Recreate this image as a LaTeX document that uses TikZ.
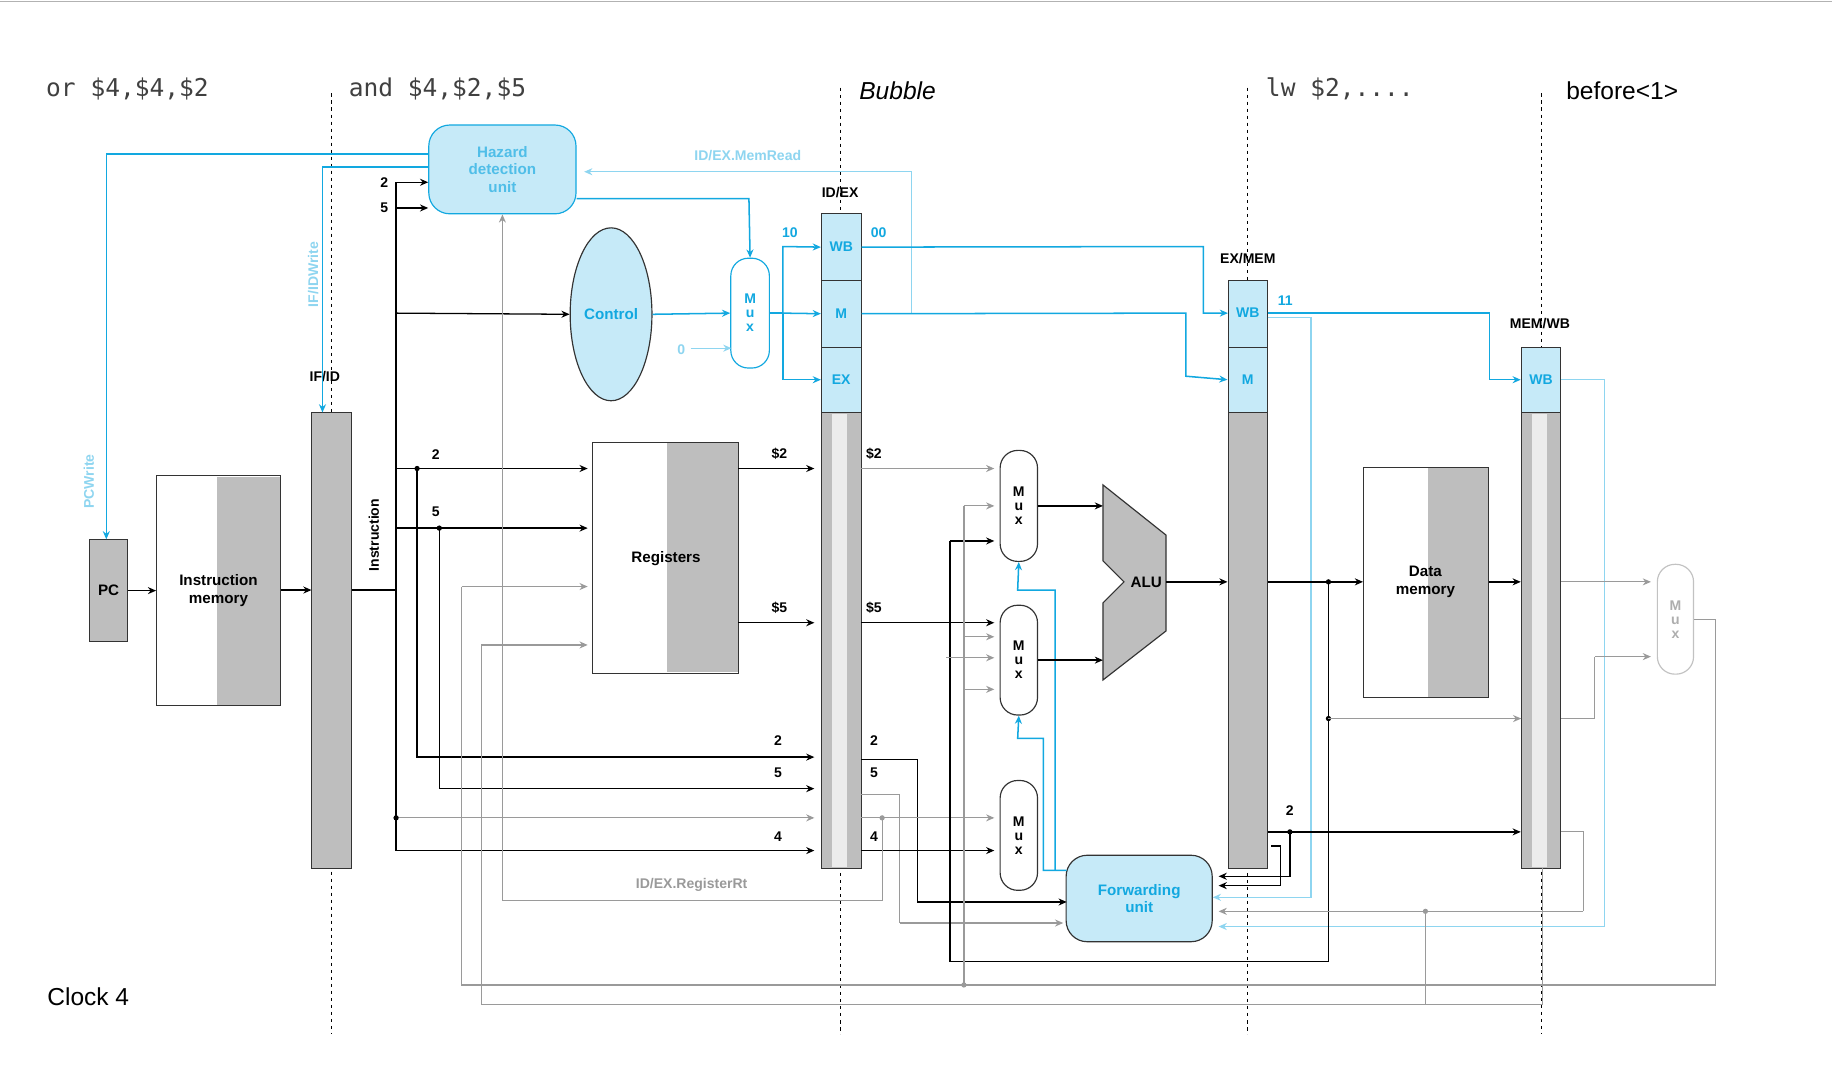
\documentclass[tikz,border=0pt]{standalone}
\usepackage{fontspec}
\setmainfont{Liberation Sans}
\setmonofont{DejaVu Sans Mono}
\usetikzlibrary{arrows.meta,shapes.geometric}
\definecolor{cy}{HTML}{12A8E0}
\definecolor{lcy}{HTML}{8ED5F0}
\definecolor{cyf}{HTML}{C6EAF8}
\definecolor{gf}{HTML}{BEBEBE}
\definecolor{lg}{HTML}{9A9A9A}
\newcommand{\blk}[6]{\node[#6, minimum width={(#4-#2)*1pt}, minimum height={(#5-#3)*1pt}] (#1) at ({(#2+#4)/2},{(#3+#5)/2}) {};}
\tikzset{
  reg/.style={draw=black!80, fill=gf, inner sep=0, line width=0.8pt},
  creg/.style={draw=black!80, fill=cyf, inner sep=0, line width=0.8pt, text=cy},
  box/.style={draw=black!80, fill=white, inner sep=0, line width=0.8pt},
  w/.style={line width=1.1pt, -{Stealth[length=7pt,width=6pt]}},
  wn/.style={line width=1.1pt},
  c/.style={line width=1.3pt, draw=cy, -{Stealth[length=7pt,width=6pt]}},
  cn/.style={line width=1.3pt, draw=cy},
  lc/.style={line width=1pt, draw=lcy, -{Stealth[length=7pt,width=6pt]}},
  lcn/.style={line width=1pt, draw=lcy},
  g/.style={line width=1pt, draw=lg, -{Stealth[length=7pt,width=6pt]}},
  gn/.style={line width=1pt, draw=lg},
  dsh/.style={dashed, line width=0.8pt},
  lab/.style={font=\fontsize{13}{15}\selectfont\bfseries, inner sep=1pt},
  sm/.style={font=\fontsize{12}{14}\selectfont\bfseries, inner sep=1pt},
  mux/.style={draw=black!80, fill=white, rounded corners=15pt, line width=1pt, inner sep=0, align=center, font=\fontsize{12}{12}\selectfont\bfseries},
  dot/.style={circle, fill=black, inner sep=1.6pt},
  gdot/.style={circle, fill=lg, inner sep=1.6pt},
  top/.style={font=\ttfamily\fontsize{21}{23}\selectfont, anchor=west, text=black!75}
}
\begin{document}
\begin{tikzpicture}[x=1pt,y=-1pt]
\useasboundingbox (0,0) rectangle (1568,924);
\fill[white] (0,0) rectangle (1568,924);
\draw[black!30, line width=1pt] (0,1) -- (1568,1);
% stage separators
\draw[dsh] (284,80) -- (284,885);
\draw[dsh] (719,75) -- (719,885);
\draw[dsh] (1068,75) -- (1068,885);
\draw[dsh] (1319,80) -- (1319,885);
% top labels
\node[top] (t1) at (36,76) {or \$4,\$4,\$2};
\node[top] (t2) at (295,76) {and \$4,\$2,\$5};
\node[anchor=west, font=\itshape\fontsize{21}{23}\selectfont] (t3) at (732,78) {Bubble};
\node[top] (t4) at (1080,76) {lw \$2,....};
\node[anchor=west, font=\fontsize{21}{23}\selectfont] (t5) at (1337,78) {before<1>};
\node[anchor=west, font=\fontsize{21}{23}\selectfont] (clk) at (37,853) {Clock 4};
% blocks
\blk{pc}{77}{462}{109}{549}{reg}
\node[lab] at (pc) {PC};
\blk{im}{134}{407}{240}{604}{box}
\fill[gf] (186,408) rectangle (239.5,603.5);
\node[lab, align=center] at (im) {Instruction\\memory};
\blk{ifid}{267}{353}{301}{743}{reg}
\node[sm] at (278,322) {IF/ID};
\node[sm, rotate=90] at (320,458) {Instruction};
\node[draw=cy, fill=cyf, rounded corners=18pt, minimum width=126pt, minimum height=76pt, line width=1pt, align=center, text=lcy!50!cy, font=\fontsize{13}{15}\selectfont\bfseries] (hdu) at (430,145) {Hazard\\detection\\unit};
\node[ellipse, draw=black!80, fill=cyf, minimum width=70pt, minimum height=148pt, line width=1pt, text=cy, font=\fontsize{13}{15}\selectfont\bfseries, inner sep=0] (ctl) at (523,269) {Control};
\node[mux, draw=cy, text=cy, minimum width=33pt, minimum height=94pt] (cmux) at (642,268) {M\\u\\x};
% ID/EX
\blk{idex}{703}{353}{737}{743}{reg}
\fill[white!70!gf] (712,354) rectangle (725,742);
\blk{idwb}{703}{183}{737}{240}{creg}
\blk{idm}{703}{240}{737}{297}{creg}
\blk{idexx}{703}{297}{737}{353}{creg}
\node[sm, text=cy] at (idwb) {WB};
\node[sm, text=cy] at (idm) {M};
\node[sm, text=cy] at (idexx) {EX};
\node[sm] at (719,165) {ID/EX};
\node[sm, text=cy] at (676,199) {10};
\node[sm, text=cy] at (752,199) {00};
% registers
\blk{rf}{507}{379}{632}{576}{box}
\fill[gf] (571,379.5) rectangle (631.5,575.5);
\node[lab] at (570,478) {Registers};
% ALU muxes
\node[mux, minimum width=32pt, minimum height=95pt] (m1) at (872,433) {M\\u\\x};
\node[mux, minimum width=32pt, minimum height=94pt] (m2) at (872,565) {M\\u\\x};
\node[mux, minimum width=32pt, minimum height=94pt] (m3) at (872,715) {M\\u\\x};
% ALU
\draw[fill=gf, line width=1pt, draw=black!80] (944,415) -- (998,458) -- (998,540) -- (944,582) -- (944,516) -- (962,498) -- (944,480) -- cycle;
\coordinate (aluo) at (998,498);
\node[lab] at (981,498) {ALU};
% EX/MEM
\blk{exmem}{1051}{353}{1085}{743}{reg}
\blk{exwb}{1051}{240}{1085}{297}{creg}
\blk{exm}{1051}{297}{1085}{353}{creg}
\node[sm, text=cy] at (1068,268) {WB};
\node[sm, text=cy] at (exm) {M};
\node[sm] at (1068,221) {EX/MEM};
\node[sm, text=cy] at (1100,257) {11};
% data memory
\blk{dm}{1167}{400}{1274}{597}{box}
\fill[gf] (1222,400.5) rectangle (1273.5,596.5);
\node[lab, align=center] at (1220,498) {Data\\memory};
% MEM/WB
\blk{memwb}{1302}{353}{1336}{743}{reg}
\fill[white!70!gf] (1311,354) rectangle (1324,742);
\blk{mwwb}{1302}{297}{1336}{353}{creg}
\node[sm, text=cy] at (mwwb) {WB};
\node[sm] at (1318,277) {MEM/WB};
\node[mux, draw=lg!60, text=lg!80, minimum width=31pt, minimum height=94pt] (m4) at (1434,530) {M\\u\\x};
% forwarding unit
\node[draw=black!80, fill=cyf, rounded corners=18pt, minimum width=125pt, minimum height=74pt, line width=1pt, align=center, text=cy, font=\fontsize{13}{15}\selectfont\bfseries] (fw) at (975,769) {Forwarding\\unit};
% ---- cyan control wires
\draw[c] (hdu.west |- 0,132) -- (91,132) -- (pc.north -| 91,0);
\draw[c] (hdu.west |- 0,143) -- (276,143) -- (276,353);
\node[rotate=90, text=lcy, font=\fontsize{12}{14}\selectfont\bfseries] at (268,235) {IF/IDWrite};
\node[rotate=90, text=lcy, font=\fontsize{12}{14}\selectfont\bfseries] at (76,412) {PCWrite};
\draw[c] (hdu.east |- 0,170) -- (641,170) -- (cmux.north);
\draw[lc] (780,268) -- (780,147) -- (500,147);
\node[text=lcy, font=\fontsize{12}{14}\selectfont\bfseries] at (640,133) {ID/EX.MemRead};
\draw[c] (ctl.east) -- (cmux.west);
\node[sm, text=lcy] at (583,299) {0};
\draw[lc] (591,298) -- (626,298);
\draw[cn] (cmux.east) -- (670,268);
\draw[c] (670,268) -- (idm.west);
\draw[c] (670,268) -- (670,211) -- (idwb.west);
\draw[c] (670,268) -- (670,325) -- (idexx.west);
\draw[c] (idwb.east) -- (1030,211) -- (1030,268) -- (1051,268);
\draw[c] (idm.east) -- (1015,268) -- (1015,322) -- (exm.west);
\draw[c] (1085,268) -- (1275,268) -- (1275,325) -- (mwwb.west);
\draw[lc] (1085,272) -- (1122,272) -- (1122,768) -- (fw.east |- 0,768);
\draw[lc] (mwwb.east) -- (1373,325) -- (1373,793) -- (1043,793);
\draw[c] (903,745) -- (903,505) -- (871,505) -- (m1.south);
\draw[c] (913,745) -- (893,745) -- (893,632) -- (871,632) -- (m2.south);
% ---- black datapath
\draw[w] (pc.east) -- (im.west);
\draw[w] (im.east |- 0,505) -- (ifid.west |- 0,505);
\draw[wn] (ifid.east |- 0,505) -- (339,505);
\draw[wn] (339,156) -- (339,728);
\draw[w] (339,156) -- (hdu.west |- 0,156);
\draw[w] (339,178) -- (hdu.west |- 0,178);
\node[sm] at (329,156) {2};
\node[sm] at (329,178) {5};
\draw[w] (339,268) -- (ctl.west);
\draw[w] (339,401) -- (503,401);
\draw[w] (339,452) -- (503,452);
\node[dot] at (357,401) {};
\node[dot] at (376,452) {};
\node[sm] at (373,389) {2};
\node[sm] at (373,438) {5};
\draw[w] (357,401) -- (357,648) -- (697,648);
\draw[w] (376,452) -- (376,675) -- (697,675);
\draw[w] (339,728) -- (697,728);
\draw[g] (339,700) -- (697,700);
\node[dot] at (339,700) {};
\node[sm] at (666,634) {2};
\node[sm] at (666,661) {5};
\node[sm] at (666,716) {4};
\draw[w] (632,401) -- (697,401);
\draw[w] (632,533) -- (697,533);
\node[sm] at (667,388) {\$2};
\node[sm] at (667,520) {\$5};
\node[sm] at (748,388) {\$2};
\node[sm] at (748,520) {\$5};
\node[sm] at (748,634) {2};
\node[sm] at (748,661) {5};
\node[sm] at (748,716) {4};
\draw[g] (737,401) -- (851,401);
\draw[w] (737,533) -- (851,533);
\draw[w] (737,650) -- (785,650) -- (785,772) -- (913,772);
\draw[gn] (737,680) -- (770,680) -- (770,790);
\draw[g] (770,790) -- (910,790);
\draw[w] (737,728) -- (851,728);
\draw[g] (737,700) -- (851,700);
\node[gdot] at (755,700) {};
\draw[g] (755,700) -- (755,771) -- (430,771) -- (hdu.south);
\node[text=lg, font=\fontsize{12}{14}\selectfont\bfseries] at (592,757) {ID/EX.RegisterRt};
\draw[w] (m1.east) -- (944,433);
\draw[w] (m2.east) -- (944,565);
\draw[w] (aluo) -- (exmem.west |- aluo);
\draw[w] (exmem.east |- 0,498) -- (dm.west |- 0,498);
\node[dot] at (1137,498) {};
\draw[wn] (1137,498) -- (1137,823) -- (813,823) -- (813,463);
\draw[w] (813,463) -- (851,463);
\node[dot] at (1137,615) {};
\draw[g] (1137,615) -- (1302,615);
\draw[w] (dm.east |- 0,498) -- (memwb.west |- 0,498);
\draw[w] (exmem.east |- 0,712) -- (memwb.west |- 0,712);
\node[dot] at (1104,712) {};
\node[sm] at (1104,694) {2};
\draw[w] (1104,712) -- (1104,750) -- (1043,750);
\draw[w] (1088,724) -- (1096,724) -- (1096,758) -- (1043,758);
\draw[g] (memwb.east |- 0,498) -- (1413,498);
\draw[gn] (memwb.east |- 0,615) -- (1365,615) -- (1365,562);
\draw[g] (1365,562) -- (1413,562);
\draw[gn] (m4.east) -- (1468,530) -- (1468,843) -- (395,843) -- (395,502);
\draw[g] (395,502) -- (503,502);
\node[gdot] at (825,843) {};
\draw[gn] (825,843) -- (825,433);
\draw[g] (825,433) -- (851,433);
\draw[g] (825,545) -- (851,545);
\draw[g] (810,563) -- (851,563);
\draw[g] (825,590) -- (851,590);
\draw[gn] (1336,712) -- (1355,712) -- (1355,780);
\draw[g] (1355,780) -- (1043,780);
\draw[gn] (1320,743) -- (1320,860) -- (412,860) -- (412,552);
\draw[g] (412,552) -- (503,552);
\node[gdot] at (1220,780) {};
\draw[gn] (1220,780) -- (1220,860);
\end{tikzpicture}
\end{document}
